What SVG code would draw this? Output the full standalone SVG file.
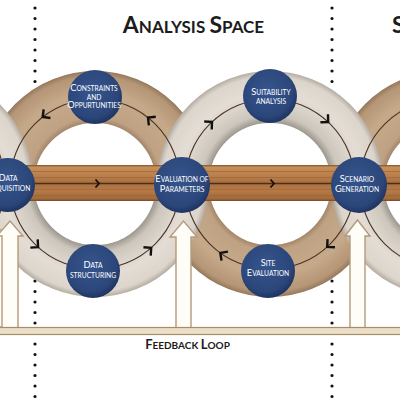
<svg xmlns="http://www.w3.org/2000/svg" xmlns:xlink="http://www.w3.org/1999/xlink" width="400" height="400" viewBox="0 0 400 400">
<style>
.dots{stroke:#111;stroke-width:3.2;stroke-linecap:round;stroke-dasharray:0 10.5;fill:none}
.tube{fill:none;stroke-width:52}
.brown{stroke:url(#gBrown)}
.light{stroke:url(#gLight)}
.arc{fill:none;stroke:#4a3426;stroke-width:1.1}
.chev{fill:none;stroke:#111;stroke-width:2.4;stroke-linejoin:miter}
.node{fill:url(#gNode)}
.nl{font-family:Lato,"Liberation Sans",sans-serif;fill:#fff;text-anchor:middle}
.b{font-size:9.3px}
.s{font-size:6.7px}
.fb{fill:#fffdf8;stroke:#b49a7a;stroke-width:1.4}
.ttl{font-family:Lato,"Liberation Sans",sans-serif;fill:#1c1c1c;font-weight:bold}
</style>
<defs>
<radialGradient id="gBrown" cx="50%" cy="50%" r="65%">
<stop offset="0.54" stop-color="#a3856a"/>
<stop offset="0.59" stop-color="#bfa283"/>
<stop offset="0.8" stop-color="#c5a989"/>
<stop offset="0.95" stop-color="#b59676"/>
<stop offset="1" stop-color="#94775c"/>
</radialGradient>
<radialGradient id="gLight" cx="50%" cy="50%" r="65%">
<stop offset="0.54" stop-color="#9d968e"/>
<stop offset="0.61" stop-color="#cdc6bc"/>
<stop offset="0.8" stop-color="#e3ddd5"/>
<stop offset="0.95" stop-color="#dcd5cb"/>
<stop offset="1" stop-color="#b3aba1"/>
</radialGradient>
<radialGradient id="gNode" cx="45%" cy="40%" r="60%">
<stop offset="0" stop-color="#36558e"/>
<stop offset="0.8" stop-color="#2b4679"/>
<stop offset="1" stop-color="#1f3462"/>
</radialGradient>
<linearGradient id="gBar" x1="0" y1="0" x2="0" y2="1">
<stop offset="0" stop-color="#80522c"/>
<stop offset="0.06" stop-color="#c78f5a"/>
<stop offset="0.3" stop-color="#ba7f4b"/>
<stop offset="0.5" stop-color="#a96f3f"/>
<stop offset="0.7" stop-color="#b67b47"/>
<stop offset="0.94" stop-color="#a2693a"/>
<stop offset="1" stop-color="#74492a"/>
</linearGradient>
<clipPath id="cTop" clipPathUnits="objectBoundingBox"><rect x="-1" y="-1" width="3" height="1.5"/></clipPath>
<clipPath id="cBot" clipPathUnits="objectBoundingBox"><rect x="-1" y="0.5" width="3" height="1.5"/></clipPath>
<polyline id="chev" class="chev" points="-5.5,-5.5 0,0 -5.5,5.5"/>
<polyline id="bchev" fill="none" stroke="#111" stroke-width="1.8" points="-3.5,-4 0,0 -3.5,4"/>
</defs>

<rect width="400" height="400" fill="#fff"/>

<g id="dotted-dividers">
<line class="dots" x1="35" y1="8" x2="35" y2="399"/>
<line class="dots" x1="332" y1="8" x2="332" y2="399"/>
</g>

<g id="rings">
<circle class="tube brown" cx="-80" cy="184" r="87" clip-path="url(#cBot)"/>
<circle class="tube brown" cx="95" cy="184" r="87" clip-path="url(#cTop)"/>
<circle class="tube brown" cx="270" cy="184" r="87" clip-path="url(#cBot)"/>
<circle class="tube brown" cx="445" cy="184" r="87" clip-path="url(#cTop)"/>
<circle class="tube light" cx="-80" cy="184" r="87" clip-path="url(#cTop)"/>
<circle class="tube light" cx="95" cy="184" r="87" clip-path="url(#cBot)"/>
<circle class="tube light" cx="270" cy="184" r="87" clip-path="url(#cTop)"/>
<circle class="tube light" cx="445" cy="184" r="87" clip-path="url(#cBot)"/>
</g>

<g id="connectors">
<circle class="arc" cx="-80" cy="184" r="85"/>
<circle class="arc" cx="95" cy="184" r="85"/>
<circle class="arc" cx="270" cy="184" r="85"/>
<circle class="arc" cx="445" cy="184" r="85"/>
<use xlink:href="#chev" transform="translate(148,117.6) rotate(-141.4)"/>
<use xlink:href="#chev" transform="translate(42.7,117) rotate(142)"/>
<use xlink:href="#chev" transform="translate(38.1,247.2) rotate(42)"/>
<use xlink:href="#chev" transform="translate(151.2,247.8) rotate(-41.4)"/>
<use xlink:href="#chev" transform="translate(212,121.8) rotate(-43)"/>
<use xlink:href="#chev" transform="translate(328.2,122) rotate(43.2)"/>
<use xlink:href="#chev" transform="translate(327.2,246.9) rotate(137.7)"/>
<use xlink:href="#chev" transform="translate(220.3,252.9) rotate(215.8)"/>
</g>

<g id="main-bar">
<rect x="0" y="165" width="400" height="36" fill="url(#gBar)"/>
<g stroke="#9a6438" stroke-width="0.8" opacity="0.8">
<line x1="0" y1="171.5" x2="400" y2="171.5"/>
<line x1="0" y1="177.5" x2="400" y2="177.5"/>
<line x1="0" y1="189.5" x2="400" y2="189.5"/>
<line x1="0" y1="195.5" x2="400" y2="195.5"/>
</g>
<line x1="0" y1="183.5" x2="400" y2="183.5" stroke="#4e3019" stroke-width="1.6"/>
<use xlink:href="#bchev" transform="translate(99,183.5)"/>
<use xlink:href="#bchev" transform="translate(274,183.5)"/>
</g>

<g id="feedback">
<rect x="-3" y="230" width="6" height="97" class="fb"/>
<path class="fb" d="M2,327 V236 H-3 L10,221 L23,236 H18 V327"/>
<path class="fb" d="M176,327 V237 H170 L183.5,221 L197,237 H191 V327"/>
<path class="fb" d="M350,327 V236 H345 L357.5,220 L370,236 H365 V327"/>
<rect x="-2" y="327.5" width="404" height="7" fill="#eadfc8" stroke="#a88b68" stroke-width="1.2"/>
</g>

<g id="node-data-acquisition">
<circle class="node" cx="8" cy="185" r="27"/>
<text class="nl" x="8" y="181"><tspan class="b">D</tspan><tspan class="s">ATA</tspan></text>
<text class="nl" x="8" y="191"><tspan class="b">A</tspan><tspan class="s">CQUISITION</tspan></text>
</g>
<g id="node-constraints">
<circle class="node" cx="95" cy="97" r="27"/>
<text class="nl" x="94" y="91"><tspan class="b">C</tspan><tspan class="s">ONSTRAINTS</tspan></text>
<text class="nl" x="94" y="99.5"><tspan class="s">AND</tspan></text>
<text class="nl" x="94" y="108"><tspan class="b">O</tspan><tspan class="s">PPURTUNITIES</tspan></text>
</g>
<g id="node-evaluation">
<circle class="node" cx="182" cy="185" r="28"/>
<text class="nl" x="182" y="182"><tspan class="b">E</tspan><tspan class="s">VALUATION OF</tspan></text>
<text class="nl" x="182" y="192"><tspan class="b">P</tspan><tspan class="s">ARAMETERS</tspan></text>
</g>
<g id="node-suitability">
<circle class="node" cx="270" cy="96" r="27"/>
<text class="nl" x="271" y="95"><tspan class="b">S</tspan><tspan class="s">UITABILITY</tspan></text>
<text class="nl" x="271" y="104"><tspan class="s">ANALYSIS</tspan></text>
</g>
<g id="node-scenario">
<circle class="node" cx="359" cy="185" r="28"/>
<text class="nl" x="357" y="182"><tspan class="b">S</tspan><tspan class="s">CENARIO</tspan></text>
<text class="nl" x="357" y="191.5"><tspan class="b">G</tspan><tspan class="s">ENERATION</tspan></text>
</g>
<g id="node-data-structuring">
<circle class="node" cx="93" cy="271" r="27"/>
<text class="nl" x="93" y="268"><tspan class="b">D</tspan><tspan class="s">ATA</tspan></text>
<text class="nl" x="93" y="278"><tspan class="s">STRUCTURING</tspan></text>
</g>
<g id="node-site-evaluation">
<circle class="node" cx="268" cy="271" r="27"/>
<text class="nl" x="268" y="266"><tspan class="b">S</tspan><tspan class="s">ITE</tspan></text>
<text class="nl" x="268" y="276"><tspan class="b">E</tspan><tspan class="s">VALUATION</tspan></text>
</g>

<g id="titles">
<text class="ttl" x="193.5" y="33" text-anchor="middle"><tspan font-size="23">A</tspan><tspan font-size="17">NALYSIS </tspan><tspan font-size="23">S</tspan><tspan font-size="17">PACE</tspan></text>
<text class="ttl" x="392" y="33" font-size="23">S</text>
<text class="ttl" x="187.5" y="349" text-anchor="middle" font-weight="normal"><tspan font-size="13">F</tspan><tspan font-size="10">EEDBACK </tspan><tspan font-size="13">L</tspan><tspan font-size="10">OOP</tspan></text>
</g>
</svg>
